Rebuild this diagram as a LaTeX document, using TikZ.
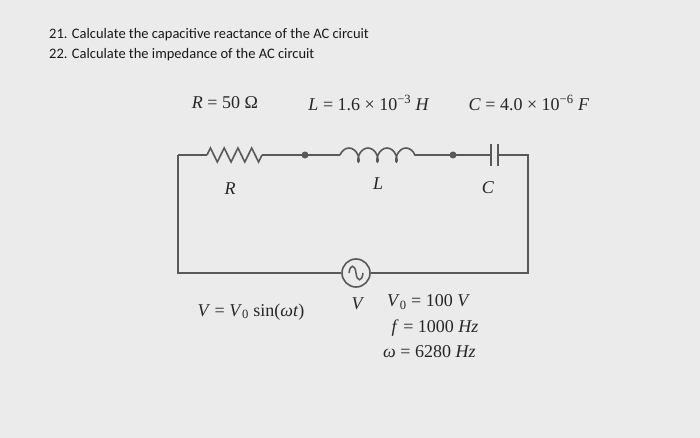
\documentclass[tikz,border=0pt]{standalone}
\usepackage{fontspec}
\setmainfont{Liberation Serif}
\newfontfamily\titlefont{Carlito}
\usetikzlibrary{decorations.pathmorphing}
\begin{document}
\begin{tikzpicture}[x=1pt,y=-1pt,
  wire/.style={draw=black!65,line width=1.6pt},
  lbl/.style={font=\fontsize{18}{20}\selectfont,text=black!85,inner sep=0pt},
  ttl/.style={font=\titlefont\fontsize{14.5}{17}\selectfont,text=black!90,anchor=west,inner sep=0pt}]
\fill[black!8] (0,0) rectangle (700,438);
\useasboundingbox (0,0) rectangle (700,438);
\node[ttl] (t1) at (49,35) {21. Calculate the capacitive reactance of the AC circuit};
\node[ttl] (t2) at (49,55) {22. Calculate the impedance of the AC circuit};
\node[lbl] (rv) at (225,103) {\textit{R} = 50 Ω};
\node[lbl] (lv) at (369,103) {\textit{L} = 1.6 × 10\textsuperscript{−3} \textit{H}};
\node[lbl] (cv) at (529,103) {\textit{C} = 4.0 × 10\textsuperscript{−6} \textit{F}};
% circuit
\coordinate (tl) at (178,155); \coordinate (tr) at (528,155);
\coordinate (bl) at (178,273); \coordinate (br) at (528,273);
\coordinate (r1) at (207,155); \coordinate (r2) at (262,155);
\coordinate (d1) at (305,155); \coordinate (l1) at (340,155); \coordinate (l2) at (418,155);
\coordinate (d2) at (453,155); \coordinate (c1) at (491,155); \coordinate (c2) at (498,155);
\node[circle,draw=black!65,line width=1.6pt,minimum size=28pt,inner sep=0pt] (src) at (356,273) {};
\draw[wire] (tl) -- (r1);
\draw[wire,decorate,decoration={zigzag,segment length=13.75pt,amplitude=7pt}] (r1) -- (r2);
\draw[wire] (r2) -- (l1);
\draw[wire,decorate,decoration={coil,segment length=19pt,amplitude=7pt,aspect=0.6}] (l1) -- (l2);
\draw[wire] (l2) -- (c1) (c2) -- (tr) -- (br) -- (src.east) (src.west) -- (bl) -- (tl);
\draw[wire] ([yshift=-11]c1) -- ([yshift=11]c1) ([yshift=-11]c2) -- ([yshift=11]c2);
\fill[black!65] (d1) circle (3.5pt) (d2) circle (3.5pt);
\draw[black!65,line width=1.5pt] ([xshift=-7]src.center) .. controls ([xshift=-6,yshift=9]src.center) and ([xshift=-1,yshift=9]src.center) .. (src.center) .. controls ([xshift=1,yshift=-9]src.center) and ([xshift=6,yshift=-9]src.center) .. ([xshift=7]src.center);
\node[lbl] (rl) at (230,189) {\textit{R}};
\node[lbl] (ll) at (378,184) {\textit{L}};
\node[lbl] (cl) at (488,188) {\textit{C}};
\node[lbl] (ve) at (251,312) {\textit{V} = \textit{V}\textsubscript{0} sin(\textit{ωt})};
\node[lbl] (vs) at (358,304) {\textit{V}};
\node[lbl,anchor=west] (v0) at (387,302) {\textit{V}\textsubscript{0} = 100 \textit{V}};
\node[lbl,anchor=west] (fq) at (387,328) {\ \textit{f} = 1000 \textit{Hz}};
\node[lbl,anchor=west] (om) at (383,352) {\textit{ω} = 6280 \textit{Hz}};
\end{tikzpicture}
\end{document}
